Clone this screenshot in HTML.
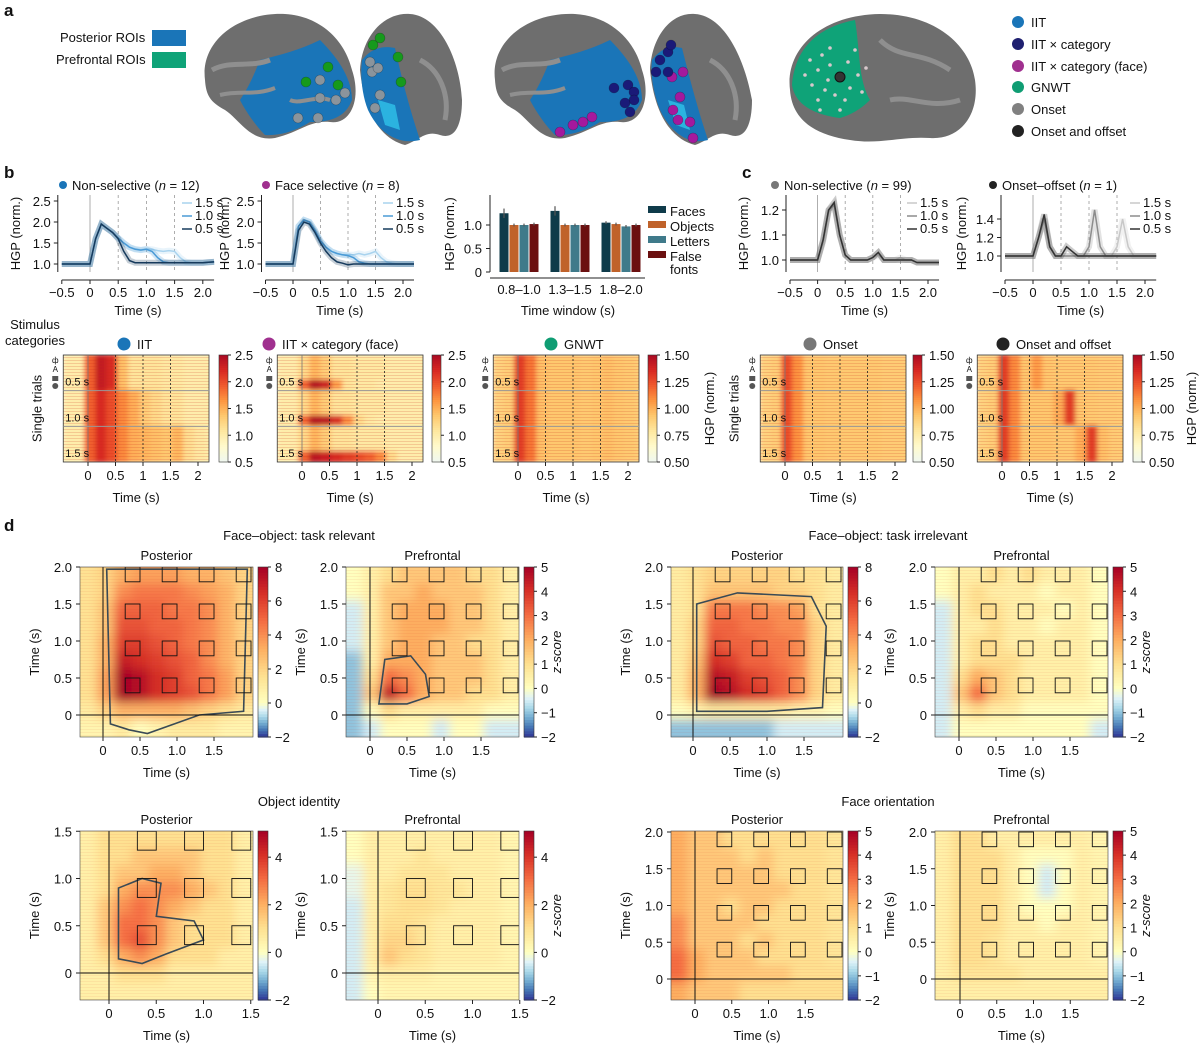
<!DOCTYPE html>
<html><head><meta charset="utf-8"><style>
body{margin:0;background:#fff;}
svg{display:block;font-family:"Liberation Sans",Arial,sans-serif;}
text{fill:#111;}
</style></head><body>
<svg id="fig" width="1200" height="1048" viewBox="0 0 1200 1048" xmlns="http://www.w3.org/2000/svg">
<defs>
<filter id="blur2" x="-5%" y="-5%" width="110%" height="110%"><feGaussianBlur stdDeviation="5"/></filter>
<filter id="blur1" x="-5%" y="-5%" width="110%" height="110%"><feGaussianBlur stdDeviation="2.5" /></filter>
<pattern id="stripes" width="6" height="3" patternUnits="userSpaceOnUse"><rect width="6" height="1" fill="rgba(200,40,20,0.18)"/></pattern>
</defs>
<!-- panel a -->
<g>
<text x="4" y="16" font-size="17" font-weight="bold">a</text>
<text x="60" y="42" font-size="13">Posterior ROIs</text>
<rect x="152" y="30" width="34" height="16" fill="#1a75b8"/>
<text x="56" y="64" font-size="13">Prefrontal ROIs</text>
<rect x="152" y="52" width="34" height="16" fill="#0fa378"/>
<g>
<path d="M205,80 C200,40 240,12 285,14 C320,16 345,40 352,70 C362,100 350,125 330,122 C310,120 300,132 275,138 C250,142 240,120 225,110 C210,102 206,95 205,80Z" fill="#6e6e6e"/>
<path d="M260,60 C280,55 300,50 320,40 C340,60 352,80 352,100 C345,118 330,122 310,122 C300,128 285,136 265,135 C255,125 245,110 240,100 C250,85 255,72 260,60Z" fill="#1a75b8"/>
<path d="M212,70 C230,60 250,68 270,60" stroke="#8f8f8f" stroke-width="5" fill="none"/>
<path d="M220,95 C240,90 255,96 275,88 M290,100 C300,105 315,95 330,100" stroke="#8f8f8f" stroke-width="4" fill="none"/>
</g>
<g>
<path d="M360,70 C362,35 385,12 410,14 C440,16 460,60 462,100 C462,125 455,140 440,135 C425,130 420,140 405,145 C385,140 365,120 360,70Z" fill="#6e6e6e"/>
<path d="M362,60 C370,50 380,45 395,48 C402,80 410,110 420,140 C400,145 380,135 368,110 C362,95 360,75 362,60Z" fill="#1a75b8"/>
<path d="M378,100 L395,105 L400,130 L385,125Z" fill="#2bb3e0"/>
<path d="M420,60 C440,70 450,95 445,120" stroke="#8f8f8f" stroke-width="5" fill="none"/>
</g>
<g>
<path d="M495,80 C490,40 530,12 575,14 C610,16 635,40 642,70 C652,100 640,125 620,122 C600,120 590,132 565,138 C540,142 530,120 515,110 C500,102 496,95 495,80Z" fill="#6e6e6e"/>
<path d="M550,60 C570,55 590,50 610,40 C630,60 642,80 642,100 C635,118 620,122 600,122 C590,128 575,136 555,135 C545,125 535,110 530,100 C540,85 545,72 550,60Z" fill="#1a75b8"/>
<path d="M502,70 C520,60 540,68 560,60" stroke="#8f8f8f" stroke-width="5" fill="none"/>
<path d="M510,95 C530,90 545,96 565,88" stroke="#8f8f8f" stroke-width="4" fill="none"/>
</g>
<g>
<path d="M650,70 C652,35 672,12 695,14 C725,16 745,60 752,100 C752,125 745,140 730,135 C715,130 710,140 695,145 C675,140 655,120 650,70Z" fill="#6e6e6e"/>
<path d="M652,60 C660,50 668,45 682,48 C690,80 698,110 708,140 C690,145 672,135 660,110 C654,95 650,75 652,60Z" fill="#1a75b8"/>
<path d="M668,100 L684,105 L690,130 L676,125Z" fill="#2bb3e0"/>
<path d="M710,60 C730,70 740,95 735,120" stroke="#8f8f8f" stroke-width="5" fill="none"/>
</g>
<g>
<path d="M790,90 C785,50 820,15 880,14 C935,14 970,45 975,80 C980,115 960,140 930,138 C900,136 880,145 850,140 C815,135 792,120 790,90Z" fill="#6e6e6e"/>
<path d="M792,85 C795,50 815,28 855,20 C860,50 858,80 870,100 C860,110 850,115 840,118 C815,115 795,105 792,85Z" fill="#0fa378"/>
<path d="M880,40 C900,60 920,50 950,70 M890,100 C910,95 930,110 960,100" stroke="#8f8f8f" stroke-width="5" fill="none"/>
</g>
<g id="adots"></g>
<g>
<circle cx="1018" cy="22" r="6" fill="#1a75b8"/><text x="1031" y="27" font-size="13">IIT</text>
<circle cx="1018" cy="44" r="6" fill="#1f2070"/><text x="1031" y="49" font-size="13">IIT × category</text>
<circle cx="1018" cy="66" r="6" fill="#a0308f"/><text x="1031" y="71" font-size="13">IIT × category (face)</text>
<circle cx="1018" cy="87" r="6" fill="#0f9d73"/><text x="1031" y="92" font-size="13">GNWT</text>
<circle cx="1018" cy="109" r="6" fill="#808080"/><text x="1031" y="114" font-size="13">Onset</text>
<circle cx="1018" cy="131" r="6" fill="#222"/><text x="1031" y="136" font-size="13">Onset and offset</text>
</g>
</g>
<text x="4" y="178" font-size="17" font-weight="bold">b</text>
<text x="742" y="178" font-size="17" font-weight="bold">c</text>
<text x="4" y="531" font-size="17" font-weight="bold">d</text>
<g id="root"></g>
</svg>
<script>
// ---------- DATA ----------
const lineTimes = [-0.5,-0.4,-0.3,-0.2,-0.1,0,0.1,0.2,0.3,0.4,0.5,0.6,0.7,0.8,0.9,1.0,1.1,1.2,1.3,1.4,1.5,1.6,1.7,1.8,1.9,2.0,2.1,2.2];
const b1_05 = [1,1,1,1,1,1,1.6,1.95,1.85,1.75,1.6,1.3,1.08,1.03,1.03,1.03,1.03,1.03,1.03,1.03,1.03,1.03,1.03,1.03,1.03,1.03,1.04,1.05];
const b1_10 = [1,1,1,1,1,1,1.6,1.95,1.85,1.75,1.62,1.5,1.4,1.35,1.33,1.35,1.3,1.15,1.05,1.03,1.03,1.03,1.03,1.03,1.03,1.03,1.04,1.05];
const b1_15 = [1,1,1,1,1,1,1.6,1.95,1.85,1.75,1.62,1.5,1.4,1.36,1.34,1.36,1.35,1.32,1.3,1.32,1.3,1.15,1.05,1.03,1.03,1.03,1.04,1.05];
const b2_05 = [1,1,1,1,1,1,1.8,2.0,1.95,1.75,1.5,1.3,1.15,1.05,1.02,0.98,1.0,1.0,1.0,1.0,1.0,1.0,1.0,1.0,1.0,1.0,1.0,1.0];
const b2_10 = [1,1,1,1,1,1,1.9,2.05,2.0,1.8,1.55,1.4,1.3,1.25,1.22,1.2,1.15,1.05,1.02,1.0,1.0,1.0,1.0,1.0,1.0,1.0,1.0,1.0];
const b2_15 = [1,1,1,1,1,1,1.9,2.05,2.0,1.8,1.55,1.4,1.3,1.25,1.22,1.22,1.22,1.25,1.22,1.25,1.3,1.15,1.05,1.02,1.0,1.0,1.0,1.0];
const c1_05 = [1,1,1,1,1,1,1.08,1.2,1.23,1.1,1.02,1.0,1.0,1.0,1.0,1.01,1.03,1.0,1.0,1.0,1.0,1.0,1.0,0.99,0.99,0.99,0.99,0.99];
const c1_10 = [1,1,1,1,1,1,1.08,1.2,1.22,1.1,1.02,1.0,1.0,1.0,1.0,1.01,1.03,1.0,1.0,1.0,1.0,1.0,1.0,0.99,0.99,0.99,0.99,0.99];
const c1_15 = [1,1,1,1,1,1,1.07,1.19,1.22,1.1,1.02,1.0,1.0,1.0,1.0,1.01,1.02,1.0,1.0,1.0,1.01,1.0,1.0,0.99,0.99,0.99,0.99,0.99];
const c2_05 = [1,1,1,1,1,1,1.2,1.45,1.1,1.0,1.0,1.1,1.05,1.0,1.0,1.0,1.0,1.0,1.0,1.0,1.0,1.0,1.0,1.0,1.0,1.0,1.0,1.0];
const c2_10 = [1,1,1,1,1,1,1.2,1.4,1.1,1.0,1.0,1.0,1.0,1.0,1.0,1.1,1.5,1.1,1.0,1.0,1.0,1.0,1.0,1.0,1.0,1.0,1.0,1.0];
const c2_15 = [1,1,1,1,1,1,1.2,1.4,1.1,1.0,1.0,1.0,1.0,1.0,1.0,1.0,1.0,1.0,1.0,1.0,1.1,1.4,1.1,1.0,1.0,1.0,1.0,1.0];

const barWindows = ["0.8–1.0","1.3–1.5","1.8–2.0"];
const barCats = ["Faces","Objects","Letters","False fonts"];
const barFaces = [1.25,1.3,1.05];
const barObjects = [1.0,1.0,1.02];
const barLetters = [1.0,1.0,0.97];
const barFonts = [1.02,1.0,1.0];
const barErr = [0.1,0.1,0.03];

const rasterBins = [-0.45,-0.25,-0.05,0.15,0.35,0.55,0.75,0.95,1.15,1.35,1.55,1.75,1.95,2.15];
const r1_05 = [1,1,1.9,2.35,2.2,1.4,1.1,1.1,1.1,1.05,1.05,1.0,1.0,1.0];
const r1_10 = [1,1,1.9,2.2,2.0,1.7,1.5,1.3,1.2,1.1,1.1,1.0,1.0,1.0];
const r1_15 = [1,1,1.9,2.2,2.0,1.7,1.5,1.45,1.4,1.35,1.45,1.15,1.05,1.0];
const r2_oth = [1,1,1.2,1.45,1.3,1.1,1.1,1.05,1.05,1.05,1.0,1.0,1.0,1.0];
const r2_f05 = [1,1,1.9,2.45,2.3,1.6,1.1,1.05,1.05,1.0,1.0,1.0,1.0,1.0];
const r2_f10 = [1,1,1.9,2.45,2.4,2.2,1.7,1.2,1.05,1.0,1.0,1.0,1.0,1.0];
const r2_f15 = [1,1,1.9,2.4,2.3,2.2,2.1,2.0,1.9,1.7,1.2,1.0,1.0,1.0];
const r3_all = [0.88,0.9,1.3,1.15,0.95,0.93,0.93,0.93,0.92,0.93,0.95,0.93,0.92,0.9];
const r4_all = [0.88,0.9,1.25,1.08,0.93,0.93,0.92,0.92,0.92,0.92,0.92,0.91,0.91,0.9];
const r5_05 = [0.88,0.9,1.3,1.1,0.93,1.05,0.93,0.92,0.92,0.92,0.92,0.91,0.91,0.9];
const r5_10 = [0.88,0.9,1.3,1.1,0.93,0.93,0.93,1.0,1.3,0.93,0.92,0.91,0.91,0.9];
const r5_15 = [0.88,0.9,1.3,1.1,0.93,0.93,0.93,0.92,0.92,1.0,1.3,0.95,0.91,0.9];

const PTR = [
[1.5,2,3,3.5,3.5,3.5,3,3,2.5,2],[1.5,2,4,4.5,4.5,4.5,4,3.5,3,2],[1.5,2.5,5,5,5,4.5,4.5,4,3,2],
[1.5,2.5,5.5,5.5,5,5,4.5,4,3,2],[1.5,3,6,6,5.5,5,4.5,4,3,2],[1.5,3,7,6.5,6,5.5,5,4,3,2],
[1.5,3.5,8,7.5,6.5,6,5,4.5,3.5,2],[1.5,3.5,8,7.5,6.5,6,5.5,4.5,3.5,2],[1,2,3,3,3,3,2.5,2,1.5,1],
[0.5,0.5,1,0,0.5,1,1,1,0.5,0.5]];
const PFTR = [
[0,0.5,1,1.5,1.5,1.5,1.5,1,1,0.5],[0,0.5,1.5,1.5,2,1.5,1.5,1.5,1,0.5],[-0.5,0.5,1.5,2,2,2,1.5,1.5,1,0.5],
[-0.5,0.5,1.5,2,2,2,1.5,1.5,1,0.5],[-0.5,0.5,1.5,2,2,1.5,1.5,1,1,0.5],[-1,0.5,2,2,2,1.5,1.5,1.5,1,0.5],
[-1,1,3,2.5,2,1.5,1.5,1.5,1,0.5],[-1,1.5,4.5,3,2,1.5,1.5,1,1,0.5],[-1,0,1,0.5,0.5,0.5,0.5,0.5,0,0],
[-1,-0.5,0,0,0,-0.5,0,0,-0.5,-0.5]];
const PTIR = [
[1,1.5,2,2,2,2,2,1.5,1.5,1],[1,1.5,2.5,2.5,2.5,2.5,2,2,1.5,1],[1,1.5,4.5,4.5,4.5,4,4,3.5,1.5,1],
[1,2,5,5,4.5,4.5,4,4,2,1],[1,2,5.5,5,5,4.5,4.5,4,2,1],[1,2.5,6.5,6,5,5,4.5,4,2,1],
[1,3,7.5,7,6,5.5,5,4,2,1],[1,3,8,7.5,6.5,6,5,4,2,1],[0,0.5,1,1,1,1,1,0.5,0.5,0],
[-1,-1,-1,-1,-1,-1,-0.5,-0.5,-0.5,-0.5]];
const PFTIR = [
[0,0.5,0.5,1,0.5,1,0.5,0.5,0.5,0],[0,0.5,1,0.5,0.5,0.5,0,0.5,0.5,0],[-0.5,0.5,1,1,0.5,0.5,0.5,0,0.5,0],
[-0.5,0.5,0.5,1,0.5,0.5,0,0.5,0.5,0],[-0.5,0.5,1,1,0.5,0.5,0.5,0.5,0.5,0],[-0.5,0.5,1,1,1,0.5,0.5,0.5,0.5,0],
[-0.5,1,2,1.5,1,0.5,0.5,0.5,0.5,0],[-0.5,1.5,3,1.5,1,0.5,0.5,0.5,0.5,0],[-0.5,0.5,1,0.5,0.5,0,0,0,0,0],
[-0.5,0,0,0,0,0,0,0,0,-0.5]];
const OIP = [
[0.5,1,1,1,1,1,1,1,1,0.5],[0.5,1,1,1.5,1.5,1.5,1.5,1,1,0.5],[0.5,1,1.5,1.5,2,2,1.5,1,1,0.5],
[0.5,1,2,2.5,2.5,2.5,2,1.5,1,0.5],[0.5,1.5,2.5,3,2.5,2,1.5,1,1,0.5],[0.5,1.5,3,3,2.5,1.5,1,1,1,0.5],
[0.5,1.5,3,3.5,2.5,1.5,1,1,1,0.5],[0.5,1,2,2.5,2,1,1,1,0.5,0.5],[0.5,0.5,1,1,1,0.5,0.5,0.5,0.5,0.5],
[0.5,0.5,0.5,0.5,0.5,0.5,0.5,0.5,0.5,0.5]];
const OIPF = [
[0,0.5,0.5,0.5,0.5,0.5,0.5,0.5,0.5,0.3],[0,0.5,0.5,0.5,0.8,0.5,0.5,0.5,0.5,0.3],[-0.3,0.5,0.5,0.8,0.8,0.8,0.5,0.5,0.5,0.3],
[-0.3,0.5,0.8,1,1,0.8,0.8,0.5,0.5,0.3],[-0.5,0.5,0.8,1,1,0.8,0.5,0.5,0.5,0.3],[-0.5,0.5,1,1,0.8,0.5,0.5,0.5,0.5,0.3],
[-0.5,0.5,1.2,1.2,0.8,0.5,0.5,0.5,0.5,0.3],[-0.5,0.5,1.5,1,0.8,0.5,0.5,0.5,0.5,0.3],[-0.5,0.3,0.5,0.5,0.5,0.3,0.3,0.3,0.3,0.3],
[-0.5,0,0.3,0.3,0.3,0.3,0.3,0.3,0.3,0.3]];
const FOP = [
[2,1.5,1.5,1,1,1,1,1,1,0.8],[2,1.5,1.5,1.5,1,1.5,1,1,1,0.8],[2,1.5,1.5,1.5,1.5,1.5,1,1,1,0.8],
[2,1.5,1.5,1.5,1.5,1.5,1.5,1,1,0.8],[2,1.5,1.5,1,1.5,1.5,1,1,1,0.8],[2.5,1.5,1.5,1.5,1.5,1,1,1,1,0.8],
[2.5,1.5,1.5,1.5,1,1.5,1,1,1,0.8],[3,2,1.5,1.5,1.5,1,1,1,1,0.8],[3,2,1.5,1.5,1.5,1.5,1.5,1,1,1],
[2,1.5,1.5,1.5,1,1,1,1,1,1]];
const FOPF = [
[0.5,1,1,0.5,0.5,0.5,0.5,0.5,0.5,0.3],[0.5,1,1,1,0.5,0,0,0,0.5,0.3],[0.5,1,1,1,0.5,0,-0.5,0,0.5,0.3],
[0.5,1,1,1,0.5,0,-0.5,0,0.5,0.3],[0.5,1,1,1,0.5,0,0,0,0.5,0.3],[0.5,1,1,1,0.5,0.5,0,0.5,0.5,0.3],
[0.5,1,1,0.8,0.5,0.5,0.5,0.5,0.5,0.3],[0.5,1,1,0.8,0.5,0.5,0.5,0.5,0.5,0.3],[0.5,0.8,0.8,0.8,0.8,0.5,0.5,0.5,0.5,0.5],
[0.5,0.5,0.5,0.5,0.5,0.5,0.5,0.5,0.5,0.5]];

// ---------- helpers ----------
const NS="http://www.w3.org/2000/svg";
const root=document.getElementById('root');
function el(tag,attrs,parent){const e=document.createElementNS(NS,tag);for(const k in attrs)e.setAttribute(k,attrs[k]);(parent||root).appendChild(e);return e;}
function txt(x,y,s,attrs,parent){const t=el('text',Object.assign({x:x,y:y,'font-size':13},attrs||{}),parent);t.textContent=s;return t;}
function lerp(a,b,t){return a+(b-a)*t;}
function cmap(stops,t){t=Math.max(0,Math.min(1,t));const n=stops.length-1;const i=Math.min(n-1,Math.floor(t*n));const f=t*n-i;const a=stops[i],b=stops[i+1];return `rgb(${Math.round(lerp(a[0],b[0],f))},${Math.round(lerp(a[1],b[1],f))},${Math.round(lerp(a[2],b[2],f))})`;}
const RDYLBU=[[49,54,149],[69,117,180],[116,173,209],[171,217,233],[224,243,248],[255,255,191],[254,224,144],[253,174,97],[244,109,67],[215,48,39],[165,0,38]];
const YLORRD=[[240,248,240],[255,250,205],[254,232,160],[254,200,110],[253,150,65],[240,90,45],[215,40,35],[170,10,35]];
function zcol(v,mn,mx){const t=v<0?0.5+0.5*v/(-mn):0.5+0.5*v/mx;return cmap(RDYLBU,t);}
function ycol(v,mn,mx){return cmap(YLORRD,(v-mn)/(mx-mn));}

// ---------- electrode dots ----------
const adots=document.getElementById('adots');
const dotSpecs=[["#169a1c",[[306,82],[328,67],[338,85],[373,45],[380,38],[398,57],[401,82]]],
["#8a949c",[[320,80],[320,98],[336,100],[345,93],[298,118],[318,118],[370,62],[372,72],[378,68],[380,95],[375,108]]],
["#a4199d",[[560,132],[573,125],[583,122],[592,117],[672,77],[683,72],[673,110],[678,120],[680,97],[690,122],[693,138]]],
["#1a1a78",[[614,88],[628,85],[634,92],[634,100],[625,103],[630,112],[660,60],[668,52],[671,45],[656,72],[668,72]]]];
for(const [c,pts] of dotSpecs){for(const p of pts){const d=el('circle',{cx:p[0],cy:p[1],r:5,fill:c,stroke:'rgba(0,0,0,0.3)','stroke-width':0.6},adots);

}}
const pinkPts=[[810,60],[818,70],[822,55],[830,65],[812,85],[825,90],[835,95],[845,100],[850,88],[858,75],[862,92],[820,110],[840,110],[848,62],[830,48],[855,50],[818,100],[805,75],[828,80],[866,68]];
for(const p of pinkPts){const d=el('circle',{cx:p[0],cy:p[1],r:1.8,fill:'#d8c8cc'},adots);

}
const bd=el('circle',{cx:840,cy:77,r:5,fill:'#333',stroke:'#111'},adots);



// ---------- line plots ----------
function linePlot(name,o){
 const g=el('g',{});
 
 
 const sx=t=>o.x0+t*o.xs, sy=v=>o.y1-(v-o.v1)*o.ys;
 const L=sx(-0.5), R=sx(2.2);
 el('line',{x1:L-4,y1:o.top,x2:L-4,y2:o.bot,stroke:'#222','stroke-width':1},g);
 el('line',{x1:L,y1:o.axY,x2:R,y2:o.axY,stroke:'#222','stroke-width':1},g);
 el('line',{x1:sx(0),y1:o.top,x2:sx(0),y2:o.bot,stroke:'#999','stroke-width':0.8},g);
 for(const t of [0.5,1.0,1.5]) el('line',{x1:sx(t),y1:o.top,x2:sx(t),y2:o.bot,stroke:'#999','stroke-width':0.8,'stroke-dasharray':'3,3'},g);
 for(const v of o.yt){el('line',{x1:L-8,y1:sy(v),x2:L-4,y2:sy(v),stroke:'#222'},g);
  const t=txt(L-11,sy(v)+5,v.toFixed(1),{'text-anchor':'end'},g);
  
  }
 for(const v of [-0.5,0,0.5,1.0,1.5,2.0]){el('line',{x1:sx(v),y1:o.axY,x2:sx(v),y2:o.axY+4,stroke:'#222'},g);
  const t=txt(sx(v),o.axY+17,v===0?'0':(v<0?'−':'')+Math.abs(v).toFixed(1),{'text-anchor':'middle'},g);
  
  }
 const xl=txt((L+R)/2,o.axY+35,'Time (s)',{'text-anchor':'middle'},g);
 
 
 const yl=txt(0,0,'HGP (norm.)',{'text-anchor':'middle',transform:`translate(${o.ylx},${(o.top+o.bot)/2}) rotate(-90)`},g);
 
 
 const labs=['1.5 s','1.0 s','0.5 s'];
 o.series.forEach((s,i)=>{
  const d=lineTimes.map((t,j)=>(j?'L':'M')+sx(t).toFixed(1)+','+sy(s[j]).toFixed(1)).join(' ');
  el('path',{d:d,fill:'none',stroke:o.colors[i],'stroke-width':6,opacity:0.25},g);
  const p=el('path',{d:d,fill:'none',stroke:o.colors[i],'stroke-width':1.5},g);
  
  
  const ly=o.top+8+i*13;
  el('line',{x1:o.legX,y1:ly,x2:o.legX+10,y2:ly,stroke:o.colors[i],'stroke-width':1.5},g);
  const lt=txt(o.legX+13,ly+4,labs[i],{},g);
  
  
 });
 el('circle',{cx:o.titleX,cy:185,r:4,fill:o.dot},g);
 const tt=txt(o.titleX+9,190,'',{},g);
 tt.innerHTML=o.title;
 
 
}
linePlot('line-plot-non-selective',{x0:90,xs:56.4,y1:264,v1:1.0,ys:42,top:195,bot:272,axY:280,yt:[1.0,1.5,2.0,2.5],series:[b1_15,b1_10,b1_05],colors:['#a9d3ee','#4a9ad6','#163a5c'],legX:182,dot:'#1a75b8',titleX:63,title:'Non-selective (<tspan font-style="italic">n</tspan> = 12)',ylx:20});
linePlot('line-plot-face-selective',{x0:293,xs:55,y1:264,v1:1.0,ys:42,top:195,bot:272,axY:280,yt:[1.0,1.5,2.0,2.5],series:[b2_15,b2_10,b2_05],colors:['#a9d3ee','#4a9ad6','#163a5c'],legX:383,dot:'#a0308f',titleX:266,title:'Face selective (<tspan font-style="italic">n</tspan> = 8)',ylx:229});
linePlot('line-plot-c-non-selective',{x0:817.6,xs:55.2,y1:260,v1:1.0,ys:250,top:195,bot:272,axY:280,yt:[1.0,1.1,1.2],series:[c1_15,c1_10,c1_05],colors:['#c8c8c8','#8c8c8c','#333'],legX:907,dot:'#777',titleX:775,title:'Non-selective (<tspan font-style="italic">n</tspan> = 99)',ylx:748});
linePlot('line-plot-c-onset-offset',{x0:1033,xs:56,y1:256,v1:1.0,ys:92.5,top:195,bot:272,axY:280,yt:[1.0,1.2,1.4],series:[c2_15,c2_10,c2_05],colors:['#c8c8c8','#8c8c8c','#333'],legX:1130,dot:'#222',titleX:993,title:'Onset–offset (<tspan font-style="italic">n</tspan> = 1)',ylx:966});

// ---------- bar chart ----------
(function(){
 const g=el('g',{});
 
 
 const y0=272, ys=47, gx=[519,570,621], bw=10;
 const sy=v=>y0-v*ys;
 el('line',{x1:490,y1:195,x2:490,y2:y0,stroke:'#222'},g);
 el('line',{x1:490,y1:y0+6,x2:645,y2:y0+6,stroke:'#222'},g);
 for(const v of [0,0.5,1.0]){el('line',{x1:486,y1:sy(v),x2:490,y2:sy(v),stroke:'#222'},g);
  const t=txt(482,sy(v)+5,v===0?'0':v.toFixed(1),{'text-anchor':'end'},g);
  
  }
 const yl=txt(0,0,'HGP (norm.)',{'text-anchor':'middle',transform:'translate(454,234) rotate(-90)'},g);
 
 
 const series=[barFaces,barObjects,barLetters,barFonts];
 const cols=['#0f3b4a','#c0622a','#3f7a8a','#6b1010'];
 barWindows.forEach((w,i)=>{
  series.forEach((s,k)=>{
   const x=gx[i]-2*bw+k*bw;
   const r=el('rect',{x:x+0.5,y:sy(s[i]),width:bw-1,height:y0-sy(s[i]),fill:cols[k]},g);
   
   
   const e=k===0?barErr[i]:0.03;
   el('line',{x1:x+bw/2,y1:sy(s[i]-e),x2:x+bw/2,y2:sy(s[i]+e),stroke:'#555','stroke-width':1.2},g);
  });
  const t=txt(gx[i],y0+22,w,{'text-anchor':'middle'},g);
  
  
 });
 const xl=txt(568,y0+43,'Time window (s)',{'text-anchor':'middle'},g);
 
 
 const ly=[211,226,241,256];
 barCats.forEach((c,k)=>{el('rect',{x:648,y:ly[k]-5,width:18,height:7,fill:cols[k]},g);
  const t=txt(670,ly[k]+5,c==='False fonts'?'False':c,{},g);
  
  });
 txt(670,274,'fonts',{},g);
})();

// ---------- raster heatmaps ----------
txt(35,329,'Stimulus',{'text-anchor':'middle'});
txt(35,345,'categories',{'text-anchor':'middle'});
function raster(name,o){
 const g=el('g',{});
 
 
 const sx=t=>o.x0+t*55, T=355, B=462, L=sx(-0.45), R=sx(2.2);
 const clipId='clip'+name;
 const cp=el('clipPath',{id:clipId},g); el('rect',{x:L,y:T,width:R-L,height:B-T},cp);
 const inner=el('g',{'clip-path':`url(#${clipId})`},g);
 const ig=el('g',{filter:'url(#blur1)'},inner);
 const secH=(B-T)/3;
 o.bands.forEach((band,si)=>{
  band.forEach((arr,bi)=>{
   const y=T+si*secH+(bi===0?0:secH*0.72), h=bi===0?secH*0.72:secH*0.28;
   rasterBins.forEach((b,j)=>{
    const c=el('rect',{x:sx(b)-1,y:y-1,width:55*0.2+2,height:h+2,fill:ycol(arr[j],o.mn,o.mx)},ig);
    
    
   });
  });
 });
 el('rect',{x:L,y:T,width:R-L,height:B-T,fill:'url(#stripes)'},inner);
 el('rect',{x:L,y:T,width:R-L,height:B-T,fill:'none',stroke:'#333','stroke-width':0.8},g);
 el('line',{x1:sx(0),y1:T,x2:sx(0),y2:B,stroke:'#777','stroke-width':0.8},g);
 for(const t of [0.5,1,1.5]) el('line',{x1:sx(t),y1:T,x2:sx(t),y2:B,stroke:'#222','stroke-width':0.8,'stroke-dasharray':'2,2'},g);
 for(const k of [1,2]) el('line',{x1:L,y1:T+k*secH,x2:R,y2:T+k*secH,stroke:'#999','stroke-width':1},g);
 ['0.5 s','1.0 s','1.5 s'].forEach((s,k)=>{const t=txt(L+2,T+(k+1)*secH-5,s,{'font-size':11},g);
  
  });
 txt(L-8,T+8,'ф',{'font-size':8,fill:'#555','text-anchor':'middle'},g);
 txt(L-8,T+17,'A',{'font-size':8,fill:'#555','text-anchor':'middle'},g);
 el('rect',{x:L-11,y:T+21,width:6,height:5,fill:'#555'},g);
 el('circle',{cx:L-8,cy:T+31,r:3,fill:'#555'},g);
 for(const t of [0,0.5,1,1.5,2]){el('line',{x1:sx(t),y1:B,x2:sx(t),y2:B+4,stroke:'#222'},g);
  const l=txt(sx(t),B+18,String(t),{'text-anchor':'middle'},g);
  
  }
 const xl=txt((L+R)/2,B+40,'Time (s)',{'text-anchor':'middle'},g);
 
 
 const cb=el('g',{},g);
 
 
 for(let i=0;i<50;i++){const v=o.mx-(o.mx-o.mn)*(i+0.5)/50;el('rect',{x:o.cb,y:T+i*(B-T)/50,width:9,height:(B-T)/50+0.6,fill:ycol(v,o.mn,o.mx)},cb);}
 el('rect',{x:o.cb,y:T,width:9,height:B-T,fill:'none',stroke:'#333','stroke-width':0.6},cb);
 o.ticks.forEach(v=>{const y=T+(o.mx-v)/(o.mx-o.mn)*(B-T);el('line',{x1:o.cb+9,y1:y,x2:o.cb+12,y2:y,stroke:'#222'},cb);
  const l=txt(o.cb+16,y+5,v.toFixed(o.dec),{},cb);
  
  });
 el('circle',{cx:o.tx,cy:344,r:6.5,fill:o.dot},g);
 const tt=txt(o.tx+13,349,o.title,{},g);
 
 
 if(o.ylab){const yl=txt(0,0,'Single trials',{'text-anchor':'middle',transform:`translate(${L-22},${(T+B)/2}) rotate(-90)`},g);
  
  }
 if(o.hgp){const yl=txt(0,0,'HGP (norm.)',{'text-anchor':'middle',transform:`translate(${o.hgp},${(T+B)/2}) rotate(-90)`},g);
  
  }
}
raster('raster-iit',{x0:88,bands:[[r1_05,r1_05],[r1_10,r1_10],[r1_15,r1_15]],mn:0.5,mx:2.5,cb:219,ticks:[2.5,2.0,1.5,1.0,0.5],dec:1,tx:124,dot:'#1a75b8',title:'IIT',ylab:true});
raster('raster-iit-face',{x0:302,bands:[[r2_oth,r2_f05],[r2_oth,r2_f10],[r2_oth,r2_f15]],mn:0.5,mx:2.5,cb:432,ticks:[2.5,2.0,1.5,1.0,0.5],dec:1,tx:269,dot:'#a0308f',title:'IIT × category (face)'});
raster('raster-gnwt',{x0:518,bands:[[r3_all,r3_all],[r3_all,r3_all],[r3_all,r3_all]],mn:0.5,mx:1.5,cb:648,ticks:[1.5,1.25,1.0,0.75,0.5],dec:2,tx:551,dot:'#0f9d73',title:'GNWT',hgp:714});
raster('raster-onset',{x0:785,bands:[[r4_all,r4_all],[r4_all,r4_all],[r4_all,r4_all]],mn:0.5,mx:1.5,cb:913,ticks:[1.5,1.25,1.0,0.75,0.5],dec:2,tx:810,dot:'#777',title:'Onset',ylab:true});
raster('raster-onset-offset',{x0:1002,bands:[[r5_05,r5_05],[r5_10,r5_10],[r5_15,r5_15]],mn:0.5,mx:1.5,cb:1133,ticks:[1.5,1.25,1.0,0.75,0.5],dec:2,tx:1003,dot:'#222',title:'Onset and offset',hgp:1196});

// ---------- temporal generalization ----------
function tg(name,o){
 const g=el('g',{});
 
 
 const sx=v=>o.ox+v*o.s, sy=v=>o.oy-v*o.s;
 const xmin=(o.L-o.ox)/o.s, xmax=(o.R-o.ox)/o.s, ymax=(o.oy-o.T)/o.s, ymin=(o.oy-o.B)/o.s;
 const n=o.grid.length, m=o.grid[0].length, cw=(xmax-xmin)/m, ch=(ymax-ymin)/n;
 const clipId='c'+name;
 const cp=el('clipPath',{id:clipId},g); el('rect',{x:o.L,y:o.T,width:o.R-o.L,height:o.B-o.T},cp);
 const inner=el('g',{'clip-path':`url(#${clipId})`},g);
 el('rect',{x:o.L,y:o.T,width:o.R-o.L,height:o.B-o.T,fill:zcol(o.grid[0][0],o.mn,o.mx)},inner);
 const ig=el('g',{filter:'url(#blur2)'},inner);
 o.grid.forEach((row,i)=>row.forEach((v,j)=>{
  const x0=sx(xmin+j*cw), y0=sy(ymax-i*ch);
  const ex=(j===0?12:0), ey=(i===0?12:0), ex2=(j===m-1?12:0), ey2=(i===n-1?12:0);
  const c=el('rect',{x:x0-ex-0.5,y:y0-ey-0.5,width:cw*o.s+ex+ex2+1,height:ch*o.s+ey+ey2+1,fill:zcol(v,o.mn,o.mx)},ig);
  
  
 }));
 el('rect',{x:o.L,y:o.T,width:o.R-o.L,height:o.B-o.T,fill:'url(#stripes)',opacity:0.35},inner);
 if(o.contour){const d=o.contour.map((p,k)=>(k?'L':'M')+sx(p[0]).toFixed(1)+','+sy(p[1]).toFixed(1)).join(' ')+'Z';
  const c=el('path',{d:d,fill:'none',stroke:'#3a4a55','stroke-width':1.6},inner);
  
  }
 for(const cx of o.boxes) for(const cy of o.boxes){
  const b=el('rect',{x:sx(cx-0.1),y:sy(cy+0.1),width:0.2*o.s,height:0.2*o.s,fill:'none',stroke:'#111','stroke-width':0.9},inner);
  
  }
 el('line',{x1:sx(0),y1:o.T,x2:sx(0),y2:o.B,stroke:'#111','stroke-width':1},inner);
 el('line',{x1:o.L,y1:sy(0),x2:o.R,y2:sy(0),stroke:'#111','stroke-width':1},inner);
 el('rect',{x:o.L,y:o.T,width:o.R-o.L,height:o.B-o.T,fill:'none',stroke:'#444','stroke-width':0.6},g);
 for(const t of o.xticks){
  el('line',{x1:sx(t),y1:o.B,x2:sx(t),y2:o.B+4,stroke:'#222'},g);
  const l=txt(sx(t),o.B+18,t===0?'0':t.toFixed(1),{'text-anchor':'middle'},g);
  
  }
 for(const t of o.ticks){
  el('line',{x1:o.L-4,y1:sy(t),x2:o.L,y2:sy(t),stroke:'#222'},g);
  const l2=txt(o.L-8,sy(t)+5,t===0?'0':t.toFixed(1),{'text-anchor':'end'},g);
  
  }
 const xl=txt((o.L+o.R)/2,o.B+40,'Time (s)',{'text-anchor':'middle'},g);
 
 
 const yl=txt(0,0,'Time (s)',{'text-anchor':'middle',transform:`translate(${o.L-41},${(o.T+o.B)/2}) rotate(-90)`},g);
 
 
 const st=txt((o.L+o.R)/2,o.T-7,o.sub,{'text-anchor':'middle'},g);
 
 
 const cb=el('g',{},g);
 
 
 const cbx=o.R+5, H=o.B-o.T;
 for(let i=0;i<60;i++){const v=o.cmx-(o.cmx-o.mn)*(i+0.5)/60;el('rect',{x:cbx,y:o.T+i*H/60,width:10,height:H/60+0.6,fill:zcol(v,o.mn,o.mx)},cb);}
 el('rect',{x:cbx,y:o.T,width:10,height:H,fill:'none',stroke:'#333','stroke-width':0.6},cb);
 o.cticks.forEach(v=>{const y=o.T+(o.cmx-v)/(o.cmx-o.mn)*H;el('line',{x1:cbx+10,y1:y,x2:cbx+13,y2:y,stroke:'#222'},cb);
  const l=txt(cbx+17,y+5,v<0?'−'+Math.abs(v):String(v),{},cb);
  
  });
 if(o.zlab){const z=txt(0,0,'z-score',{'text-anchor':'middle','font-style':'italic',transform:`translate(${cbx+37},${o.T+H/2}) rotate(-90)`},cb);
  
  }
}
txt(299,540,'Face–object: task relevant',{'text-anchor':'middle'});
txt(888,540,'Face–object: task irrelevant',{'text-anchor':'middle'});
txt(299,806,'Object identity',{'text-anchor':'middle'});
txt(888,806,'Face orientation',{'text-anchor':'middle'});
const B4=[0.4,0.9,1.4,1.9], B3=[0.4,0.9,1.4];
const Y4=[0,0.5,1.0,1.5,2.0], X4=[0,0.5,1.0,1.5];
tg('tg-face-object-relevant-posterior',{ox:103,oy:715,s:74,L:80,R:253,T:567,B:737,grid:PTR,mn:-2,mx:8,cmx:8,cticks:[8,6,4,2,0,-2],boxes:B4,ticks:Y4,xticks:X4,sub:'Posterior',
 contour:[[0.1,-0.12],[0.05,1.97],[1.95,1.97],[1.9,0.05],[1.3,0.0],[0.6,-0.25],[0.35,-0.2]]});
tg('tg-face-object-relevant-prefrontal',{ox:370,oy:715,s:74,L:346,R:519,T:567,B:737,grid:PFTR,mn:-2,mx:5,cmx:5,cticks:[5,4,3,2,1,0,-1,-2],boxes:B4,ticks:Y4,xticks:X4,sub:'Prefrontal',zlab:true,
 contour:[[0.12,0.15],[0.2,0.75],[0.55,0.8],[0.75,0.55],[0.8,0.25],[0.5,0.15]]});
tg('tg-face-object-irrelevant-posterior',{ox:693,oy:715,s:74,L:671,R:843,T:567,B:737,grid:PTIR,mn:-2,mx:8,cmx:8,cticks:[8,6,4,2,0,-2],boxes:B4,ticks:Y4,xticks:X4,sub:'Posterior',
 contour:[[0.05,0.05],[0.05,1.5],[0.6,1.65],[1.6,1.6],[1.8,1.2],[1.75,0.1],[1.0,0.05]]});
tg('tg-face-object-irrelevant-prefrontal',{ox:959,oy:715,s:74,L:935,R:1108,T:567,B:737,grid:PFTIR,mn:-2,mx:5,cmx:5,cticks:[5,4,3,2,1,0,-1,-2],boxes:B4,ticks:Y4,xticks:X4,sub:'Prefrontal',zlab:true});
tg('tg-object-identity-posterior',{ox:109,oy:973,s:94.5,L:80,R:253,T:831,B:1000,grid:OIP,mn:-2,mx:5.1,cmx:5.1,cticks:[4,2,0,-2],boxes:B3,ticks:[0,0.5,1.0,1.5],xticks:[0,0.5,1.0,1.5],sub:'Posterior',
 contour:[[0.1,0.15],[0.1,0.9],[0.35,1.0],[0.55,0.95],[0.5,0.6],[0.9,0.55],[1.0,0.35],[0.6,0.2],[0.35,0.1]]});
tg('tg-object-identity-prefrontal',{ox:378,oy:973,s:94.5,L:346,R:519,T:831,B:1000,grid:OIPF,mn:-2,mx:5.1,cmx:5.1,cticks:[4,2,0,-2],boxes:B3,ticks:[0,0.5,1.0,1.5],xticks:[0,0.5,1.0,1.5],sub:'Prefrontal',zlab:true});
tg('tg-face-orientation-posterior',{ox:695,oy:979,s:73.5,L:671,R:843,T:831,B:1000,grid:FOP,mn:-2,mx:5,cmx:5,cticks:[5,4,3,2,1,0,-1,-2],boxes:B4,ticks:Y4,xticks:X4,sub:'Posterior'});
tg('tg-face-orientation-prefrontal',{ox:960,oy:979,s:73.5,L:935,R:1108,T:831,B:1000,grid:FOPF,mn:-2,mx:5,cmx:5,cticks:[5,4,3,2,1,0,-1,-2],boxes:B4,ticks:Y4,xticks:X4,sub:'Prefrontal',zlab:true});
</script>
</body></html>
